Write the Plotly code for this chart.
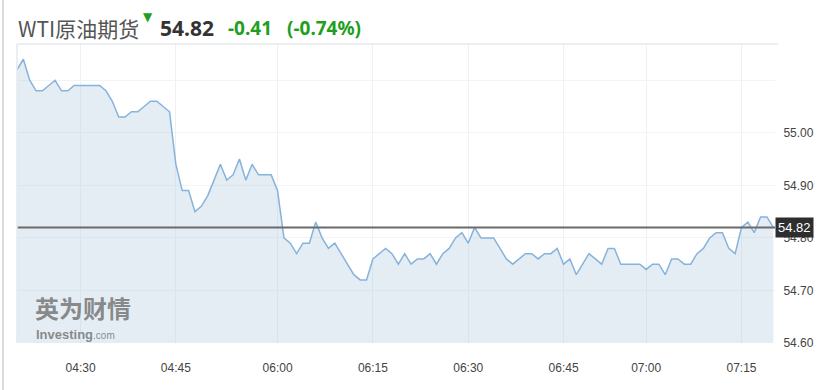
import plotly.graph_objects as go

# ---- data ----
prices = [
    55.12, 55.14, 55.10, 55.08, 55.08, 55.09, 55.10, 55.08, 55.08, 55.09,
    55.09, 55.09, 55.09, 55.09, 55.08, 55.06, 55.03, 55.03, 55.04, 55.04,
    55.05, 55.06, 55.06, 55.05, 55.04, 54.94, 54.89, 54.89, 54.85, 54.86,
    54.88, 54.91, 54.94, 54.91, 54.92, 54.95, 54.91, 54.94, 54.92, 54.92,
    54.92, 54.89, 54.80, 54.79, 54.77, 54.79, 54.79, 54.83, 54.80, 54.78,
    54.79, 54.77, 54.75, 54.73, 54.72, 54.72, 54.76, 54.77, 54.78, 54.77,
    54.75, 54.77, 54.75, 54.76, 54.76, 54.77, 54.75, 54.77, 54.78, 54.80,
    54.81, 54.79, 54.82, 54.80, 54.80, 54.80, 54.78, 54.76, 54.75, 54.76,
    54.77, 54.77, 54.76, 54.77, 54.77, 54.78, 54.75, 54.76, 54.73, 54.75,
    54.77, 54.76, 54.75, 54.78, 54.78, 54.75, 54.75, 54.75, 54.75, 54.74,
    54.75, 54.75, 54.73, 54.76, 54.76, 54.75, 54.75, 54.77, 54.78, 54.80,
    54.81, 54.81, 54.78, 54.77, 54.82, 54.83, 54.81, 54.84, 54.84, 54.82,
]

session_starts = ["04:20", "06:00"]
session_ends = ["05:00", "07:20"]
missing_minutes = ["06:50", "06:55"]

x_tick_labels = ["04:30", "04:45", "06:00", "06:15", "06:30", "06:45", "07:00", "07:15"]
y_tick_vals = [54.60, 54.70, 54.80, 54.90, 55.00, 55.10]
y_tick_text = ["54.60", "54.70", "54.80", "54.90", "55.00", ""]

title_name = "WTI原油期货"
last_price = 54.82
change_text = "-0.41"
change_pct_text = "(-0.74%)"

# ---- build time categories ----
def to_min(s):
    h, m = s.split(":")
    return int(h) * 60 + int(m)

times = []
for s, e in zip(session_starts, session_ends):
    for t in range(to_min(s), to_min(e) + 1):
        lbl = f"{t // 60:02d}:{t % 60:02d}"
        if lbl not in missing_minutes:
            times.append(lbl)

GREEN = "#1f9e1f"

fig = go.Figure()
fig.add_trace(go.Scatter(
    x=times, y=prices, mode="lines",
    line=dict(color="#86b3dc", width=1.5),
    fill="tozeroy", fillcolor="rgba(170,200,222,0.32)",
    hoverinfo="skip", showlegend=False,
))

fig.update_layout(
    width=831, height=390,
    margin=dict(l=17, r=56, t=44, b=47),
    paper_bgcolor="white", plot_bgcolor="white",
    font=dict(family="Liberation Sans, Arial, sans-serif", size=12, color="#444"),
    xaxis=dict(
        type="category", range=[0, len(times) - 1 + 0.27],
        tickmode="array", tickvals=x_tick_labels, ticktext=x_tick_labels,
        showgrid=True, gridcolor="#eef0f3", gridwidth=1,
        ticks="outside", ticklen=14, tickcolor="rgba(0,0,0,0)",
        showline=False, zeroline=False,
        tickfont=dict(size=12, color="#444"),
    ),
    yaxis=dict(
        side="right", range=[54.60, 55.169],
        tickmode="array", tickvals=y_tick_vals, ticktext=y_tick_text,
        showgrid=True, gridcolor="#f2f3f5", gridwidth=1,
        ticks="outside", ticklen=5, tickcolor="rgba(0,0,0,0)",
        showline=False, zeroline=False,
        tickfont=dict(size=12, color="#444"),
    ),
)

# last price line and label
fig.add_shape(type="line", xref="paper", yref="y", x0=0, x1=1,
              y0=last_price, y1=last_price, line=dict(color="#6b6b6b", width=2))
fig.add_annotation(xref="paper", yref="y", x=1.0, y=last_price, xanchor="left",
                   yanchor="middle", text=f"{last_price:.2f}", showarrow=False,
                   bgcolor="#2e2e2e", borderpad=2,
                   font=dict(size=13, color="white", family="Liberation Sans, Arial"))

# plot border (top / left) and container edge
fig.add_shape(type="line", xref="paper", yref="paper", x0=0, x1=1.004, y0=1, y1=1,
              line=dict(color="#e6e8ec", width=1.5))
fig.add_shape(type="line", xref="paper", yref="paper", x0=0, x1=0, y0=0, y1=1,
              line=dict(color="#e6e8ec", width=1.5))
fig.add_shape(type="line", xref="paper", yref="paper",
              x0=-14 / 758, x1=-14 / 758, y0=-47 / 299, y1=1 + 44 / 299,
              line=dict(color="#cfcfcf", width=1.5))

# title pieces
def px_x(px):
    return (px - 17) / 758

def px_y(py):
    return (342.5 - py) / 299

fig.add_annotation(xref="paper", yref="paper", x=px_x(16), y=px_y(28), xanchor="left",
                   yanchor="middle", showarrow=False, text=title_name,
                   font=dict(size=21, color="#555", family="Noto Sans CJK SC"))
fig.add_annotation(xref="paper", yref="paper", x=px_x(148), y=px_y(17), xanchor="center",
                   yanchor="middle", showarrow=False, text="▼",
                   font=dict(size=12, color=GREEN, family="DejaVu Sans"))
fig.add_annotation(xref="paper", yref="paper", x=px_x(158), y=px_y(28), xanchor="left",
                   yanchor="middle", showarrow=False, text=f"<b>{last_price:.2f}</b>",
                   font=dict(size=21, color="#333", family="Noto Sans"))
fig.add_annotation(xref="paper", yref="paper", x=px_x(226), y=px_y(28), xanchor="left",
                   yanchor="middle", showarrow=False, text=f"<b>{change_text}</b>",
                   font=dict(size=19, color=GREEN, family="Noto Sans"))
fig.add_annotation(xref="paper", yref="paper", x=px_x(285), y=px_y(28), xanchor="left",
                   yanchor="middle", showarrow=False, text=f"<b>{change_pct_text}</b>",
                   font=dict(size=19, color=GREEN, family="Noto Sans"))

# watermark
fig.add_annotation(xref="paper", yref="paper", x=px_x(33), y=px_y(307), xanchor="left",
                   yanchor="middle", showarrow=False, text="<b>英为财情</b>",
                   font=dict(size=24, color="rgba(110,110,110,0.8)", family="Noto Sans CJK SC"))
fig.add_annotation(xref="paper", yref="paper", x=px_x(34), y=px_y(334), xanchor="left",
                   yanchor="middle", showarrow=False,
                   text="<b>Investing</b><span style='font-size:10px'>.com</span>",
                   font=dict(size=13, color="rgba(110,110,110,0.8)", family="Liberation Sans"))

fig.write_html("out.html")
